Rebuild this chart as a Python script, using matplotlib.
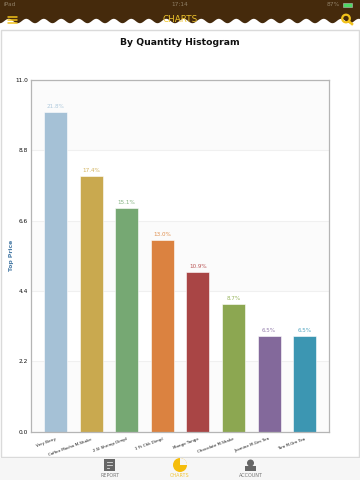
import numpy as np
import matplotlib
matplotlib.use('Agg')
import matplotlib.pyplot as plt
from matplotlib.patches import Rectangle, Circle, Wedge

names = ['Very Berry', 'Coffee Mocha M.Shake', '2.5l Shrimp Dimpl', '1 Ft Chk Dimpl',
         'Mango Tango', 'Chocolate M.Shake', 'Jasmine M.Grn Tea', 'Taro M.Grn Tea']
values = [10, 8, 7, 6, 5, 4, 3, 3]
percents = ['21.8%', '17.4%', '15.1%', '13.0%', '10.9%', '8.7%', '6.5%', '6.5%']
colors = ['#a5c1d6', '#c9a94f', '#76a873', '#db8240', '#a94545', '#8ca751', '#83699b', '#3c96b2']
label_colors = ['#b0cadd', '#d2b35f', '#86b483', '#e0904f', '#b95555', '#9ab660', '#9680ad', '#56a8c2']
yticks = [0.0, 2.2, 4.4, 6.6, 8.8, 11.0]

W, H = 360, 480
fig = plt.figure(figsize=(W/100, H/100), dpi=100, facecolor='white')

# app chrome, in pixel coords
bg = fig.add_axes([0, 0, 1, 1])
bg.set_xlim(0, W)
bg.set_ylim(H, 0)
bg.axis('off')
bg.add_patch(Rectangle((1, 30), 358, 427, fc='white', ec='#dadada', lw=1))
sx = np.linspace(0, W, 721)
scallop = 21 + 2.2*np.cos(sx*2*np.pi/17.5)
bg.fill_between(sx, 0, scallop, color='#452a0c', lw=0)
bg.add_patch(Rectangle((0, 457.5), W, 23, color='#f6f6f6', lw=0))

bg.text(3, 5, 'iPad', fontsize=4.2, color='#8f7f66', va='center')
bg.text(180, 5, '17:14', fontsize=4.2, color='#8f7f66', va='center', ha='center')
bg.text(340, 5, '87%', fontsize=4.2, color='#8f7f66', va='center', ha='right')
bg.add_patch(Rectangle((343, 3), 9, 4, fc='#4cd964', ec='#bbbbbb', lw=0.4))
for y in [16.5, 19.5, 22.5]:
    bg.plot([8, 17], [y, y], color='#f2c21a', lw=1.1, solid_capstyle='round')
bg.text(180, 20, 'CHARTS', fontsize=6.3, color='#eec42c', ha='center', va='center')
bg.add_patch(Circle((346, 18.5), 3.8, fc='none', ec='#f2c21a', lw=1.6))
bg.plot([349, 352], [21.5, 24], color='#f2c21a', lw=1.8)

bg.add_patch(Rectangle((104, 459), 11, 12, color='#666666', lw=0))
for y, x2 in [(462, 112), (465, 112), (468, 109)]:
    bg.plot([107, x2], [y, y], color='#dddddd', lw=0.6)
bg.text(110, 475.5, 'REPORT', fontsize=3.5, color='#777777', ha='center', va='center')
bg.add_patch(Circle((180, 465), 7, color='#f5bd0c', lw=0))
bg.add_patch(Wedge((180, 465), 7, 270, 360, fc='#f6f6f6', lw=0))
bg.text(180, 475.5, 'CHARTS', fontsize=3.5, color='#f0c63c', ha='center', va='center')
bg.add_patch(Circle((250.5, 463), 3.5, color='#666666', lw=0))
bg.add_patch(Rectangle((245, 466), 11, 5, color='#666666', lw=0))
bg.text(250.5, 475.5, 'ACCOUNT', fontsize=3.5, color='#777777', ha='center', va='center')

bg.text(180, 42.7, 'By Quantity Histogram', fontsize=6.7, fontweight='bold', color='#111111',
        ha='center', va='center')

# chart
left, right, top, bottom = 31, 328.5, 80, 431.5
ax = fig.add_axes([left/W, 1-bottom/H, (right-left)/W, (bottom-top)/H])
ax.patch.set_alpha(0)
x = np.arange(len(values))
for lo, hi in [(0.0, 2.2), (4.4, 6.6), (8.8, 11.0)]:
    ax.axhspan(lo, hi, color='#fbfbfb', lw=0, zorder=0)
ax.grid(axis='y', color='#f0f0f0', lw=0.8, zorder=1)
ax.set_axisbelow(True)
ax.bar(x, values, width=0.646, color=colors, edgecolor='white', linewidth=0.4, zorder=2)
for xi, v, p, c in zip(x, values, percents, label_colors):
    ax.text(xi, v+0.08, p, fontsize=4.1, color=c, ha='center', va='bottom')
ax.set_xlim(-0.688, 7.67)
ax.set_ylim(0, 11)
ax.set_yticks(yticks)
ax.set_yticklabels(['%.1f' % t for t in yticks], fontsize=4.2, color='#111111')
ax.set_xticks(x)
ax.set_xticklabels(names, fontsize=2.9, color='#111111', rotation=20, ha='right', rotation_mode='anchor')
ax.tick_params(axis='both', length=0, pad=2.2)
ax.tick_params(axis='x', pad=4)
for s in ax.spines.values():
    s.set_color('#b5b5b5')
    s.set_linewidth(0.9)
ax.set_ylabel('Top Price', fontsize=4.4, fontweight='bold', color='#4d7ea8')
ax.yaxis.set_label_coords((14-left)/(right-left), 0.5)

fig.savefig('out.png', dpi=100)
